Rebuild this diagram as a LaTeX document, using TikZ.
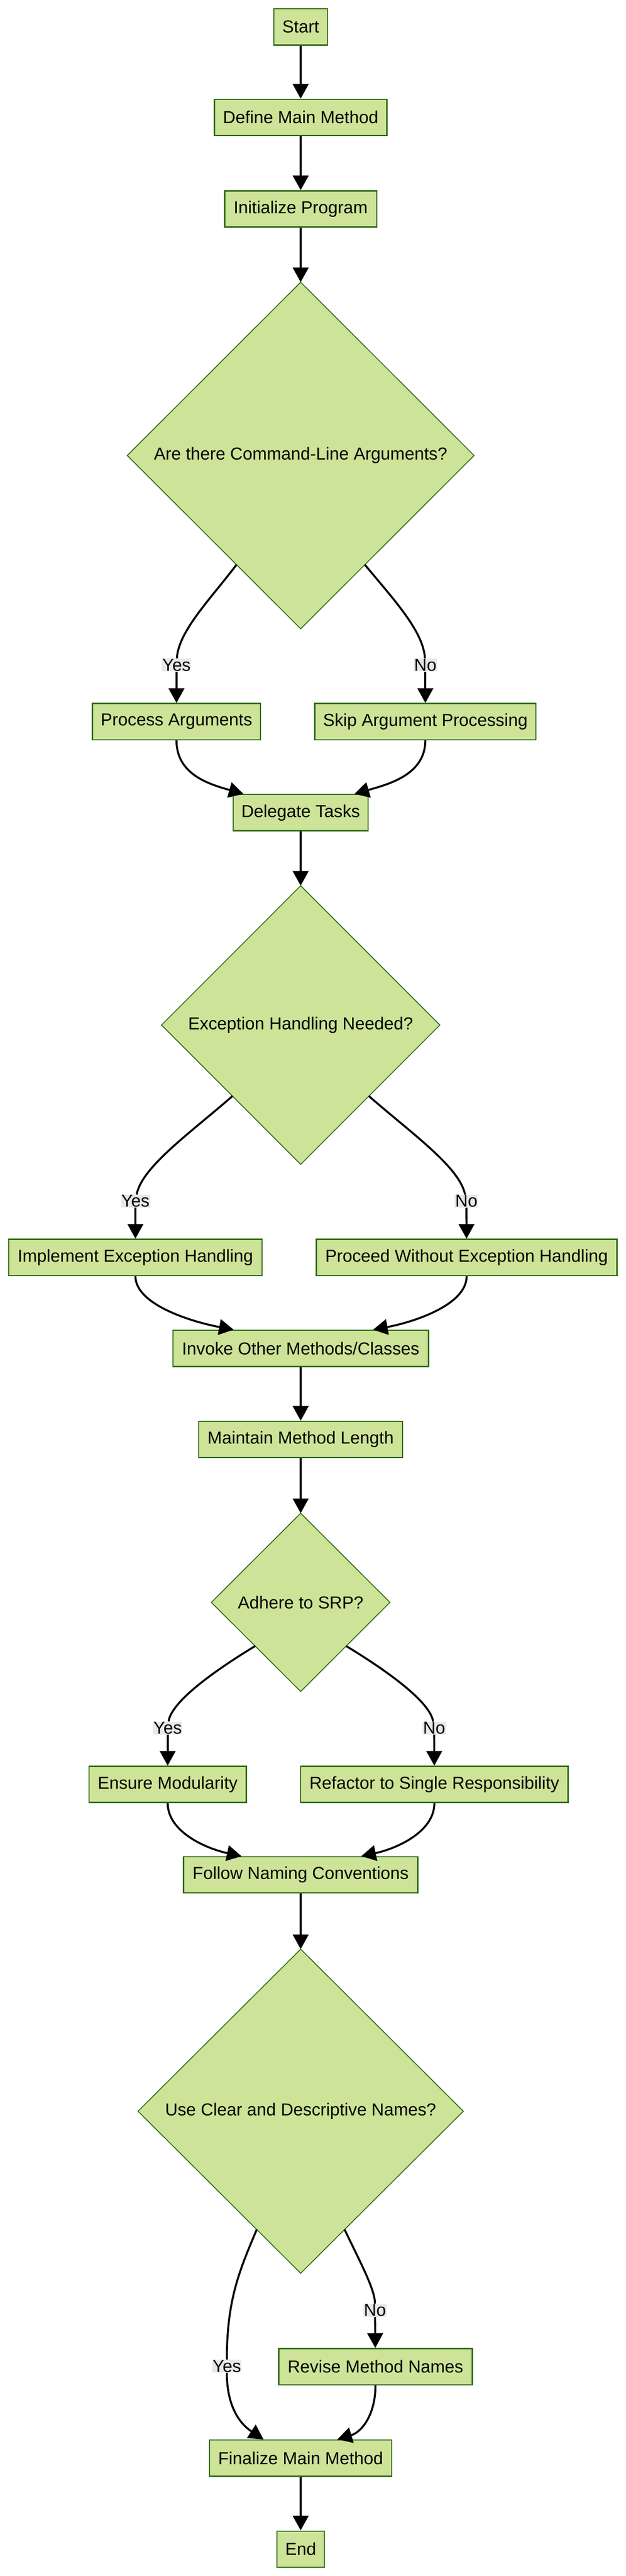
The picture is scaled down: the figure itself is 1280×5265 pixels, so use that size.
\documentclass[tikz,border=0pt]{standalone}
\usepackage{fontspec}
\setmainfont{Liberation Sans}
\usetikzlibrary{calc,arrows.meta}
\definecolor{bfill}{HTML}{CDE498}
\definecolor{bdraw}{HTML}{2F6B1A}
\definecolor{lgray}{HTML}{E8E8E8}
\begin{document}
\begin{tikzpicture}[x=1pt,y=-1pt,
  box/.style={draw=bdraw,fill=bfill,line width=2.5pt,minimum height=74pt,inner sep=0pt,font=\fontsize{35.5}{40}\selectfont},
  dbox/.style={minimum width=#1,inner sep=0pt,draw=none},
  dia/.style={draw=bdraw,fill=bfill,line width=1.8pt},
  dtext/.style={font=\fontsize{35.5}{40}\selectfont,inner sep=0pt},
  lbl/.style={fill=lgray,inner sep=1pt,font=\fontsize{35.5}{40}\selectfont},
  arr/.style={line width=4pt,-{Triangle[length=30pt,width=32pt]}},
  ln/.style={line width=4pt}]
\useasboundingbox (0,0) rectangle (1280,5265);
% boxes
\node[box,minimum width=109pt] (st) at (615,55) {Start};
\node[box,minimum width=353pt] (dm) at (615,240) {Define Main Method};
\node[box,minimum width=311pt] (ip) at (615,427) {Initialize Program};
\node[dbox=709pt,minimum height=708pt] (d1) at (615,931) {};
\draw[dia] (d1.north)--(d1.east)--(d1.south)--(d1.west)--cycle;
\node[dtext] (d1t) at (d1) {Are there Command-Line Arguments?};
\node[box,minimum width=344pt] (pa) at (361,1475) {Process Arguments};
\node[box,minimum width=452pt] (sk) at (870,1475) {Skip Argument Processing};
\node[box,minimum width=276pt] (dt) at (615,1661) {Delegate Tasks};
\node[dbox=569pt,minimum height=569pt] (d2) at (615,2095) {};
\draw[dia] (d2.north)--(d2.east)--(d2.south)--(d2.west)--cycle;
\node[dtext] (d2t) at (d2) {Exception Handling Needed?};
\node[box,minimum width=518pt] (ie) at (277,2570) {Implement Exception Handling};
\node[box,minimum width=615pt] (pw) at (954.5,2570) {Proceed Without Exception Handling};
\node[box,minimum width=523pt] (io) at (615,2756) {Invoke Other Methods/Classes};
\node[box,minimum width=417pt] (ml) at (615,2942) {Maintain Method Length};
\node[dbox=365pt,minimum height=364pt] (d3) at (615,3275) {};
\draw[dia] (d3.north)--(d3.east)--(d3.south)--(d3.west)--cycle;
\node[dtext] (d3t) at (d3) {Adhere to SRP?};
\node[box,minimum width=322pt] (em) at (343,3647) {Ensure Modularity};
\node[box,minimum width=547pt] (rs) at (888.5,3647) {Refactor to Single Responsibility};
\node[box,minimum width=479pt] (fn) at (615,3832) {Follow Naming Conventions};
\node[dbox=665pt,minimum height=662pt] (d4) at (615,4315) {};
\draw[dia] (d4.north)--(d4.east)--(d4.south)--(d4.west)--cycle;
\node[dtext] (d4t) at (d4) {Use Clear and Descriptive Names?};
\node[box,minimum width=396pt] (rm) at (768,4837) {Revise Method Names};
\node[box,minimum width=373pt] (fm) at (615,5024) {Finalize Main Method};
\node[box,minimum width=97pt] (en) at (615,5210) {End};
% labels
\node[lbl] (y1) at (361,1359) {Yes};
\node[lbl] (n1) at (870,1359) {No};
\node[lbl] (y2) at (277,2455) {Yes};
\node[lbl] (n2) at (954,2455) {No};
\node[lbl] (y3) at (343,3532) {Yes};
\node[lbl] (n3) at (888,3532) {No};
\node[lbl] (n4) at (767,4722) {No};
\node[lbl] (y4) at (464,4836) {Yes};
% straight
\draw[arr] (st) -- (dm);
\draw[arr] (dm) -- (ip);
\draw[arr] (ip) -- (d1.north);
\draw[arr] (dt) -- (d2.north);
\draw[arr] (io) -- (ml);
\draw[arr] (ml) -- (d3.north);
\draw[arr] (fn) -- (d4.north);
\draw[arr] (fm) -- (en);
% decision 1
\coordinate (e1l) at ($(d1.west)!0.63!(d1.south)$);
\coordinate (e1r) at ($(d1.east)!0.63!(d1.south)$);
\draw[ln] (e1l) .. controls (430,1225) and (365,1290) .. (y1);
\draw[arr] (y1) -- (pa);
\draw[ln] (e1r) .. controls (805,1225) and (866,1290) .. (n1);
\draw[arr] (n1) -- (sk);
\draw[arr] (pa.south) .. controls +(0,70) and +(-70,-20) .. ($(dt.north)+(-117,0)$);
\draw[arr] (sk.south) .. controls +(0,70) and +(70,-20) .. ($(dt.north)+(110,0)$);
% decision 2
\coordinate (e2l) at ($(d2.west)!0.51!(d2.south)$);
\coordinate (e2r) at ($(d2.east)!0.51!(d2.south)$);
\draw[ln] (e2l) .. controls (390,2315) and (290,2385) .. (y2);
\draw[arr] (y2) -- (ie);
\draw[ln] (e2r) .. controls (840,2315) and (940,2385) .. (n2);
\draw[arr] (n2) -- (pw);
\draw[arr] (ie.south) .. controls +(0,60) and +(-80,-15) .. ($(io.north)+(-137,0)$);
\draw[arr] (pw.south) .. controls +(0,60) and +(80,-15) .. ($(io.north)+(148,0)$);
% decision 3
\coordinate (e3l) at ($(d3.west)!0.49!(d3.south)$);
\coordinate (e3r) at ($(d3.east)!0.49!(d3.south)$);
\draw[ln] (e3l) .. controls (430,3420) and (350,3480) .. (y3);
\draw[arr] (y3) -- (em);
\draw[ln] (e3r) .. controls (800,3420) and (880,3480) .. (n3);
\draw[arr] (n3) -- (rs);
\draw[arr] (em.south) .. controls +(0,60) and +(-70,-15) .. ($(fn.north)+(-121,0)$);
\draw[arr] (rs.south) .. controls +(0,60) and +(70,-15) .. ($(fn.north)+(124,0)$);
% decision 4
\coordinate (e4l) at ($(d4.west)!0.73!(d4.south)$);
\coordinate (e4r) at ($(d4.east)!0.73!(d4.south)$);
\draw[ln] (e4l) .. controls (490,4640) and (464,4700) .. (y4);
\draw[arr] (y4) .. controls (464,4930) and (500,4960) .. ($(fm.north)+(-76,0)$);
\draw[ln] (e4r) .. controls (740,4630) and (767,4680) .. (n4);
\draw[arr] (n4) -- (rm);
\draw[arr] (rm.south) .. controls +(0,60) and +(50,-15) .. ($(fm.north)+(75,0)$);
\end{tikzpicture}
\end{document}
